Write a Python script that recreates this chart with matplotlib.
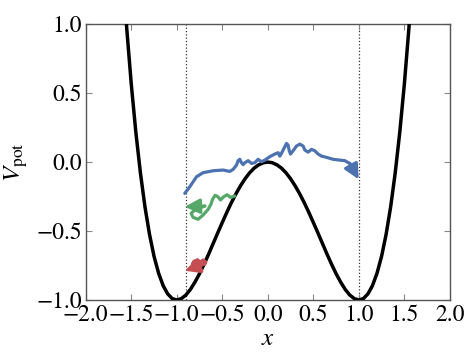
import matplotlib
matplotlib.use("Agg")
import matplotlib.pyplot as plt
import matplotlib.ticker as mticker

# double-well potential, right half (mirrored below)
x_half = [0.00, 0.05, 0.10, 0.15, 0.20, 0.25, 0.30, 0.35, 0.40, 0.45, 0.50,
          0.55, 0.60, 0.65, 0.70, 0.75, 0.80, 0.85, 0.90, 0.95, 1.00, 1.05,
          1.10, 1.15, 1.20, 1.25, 1.30, 1.35, 1.40, 1.45, 1.50, 1.55, 1.60]
v_half = [0.000, -0.005, -0.020, -0.044, -0.078, -0.121, -0.172, -0.230,
          -0.294, -0.364, -0.438, -0.513, -0.590, -0.667, -0.740, -0.809,
          -0.870, -0.923, -0.964, -0.990, -1.000, -0.990, -0.956, -0.896,
          -0.806, -0.684, -0.524, -0.324, -0.078, 0.216, 0.563, 0.967, 1.434]

# trajectories
blue_x = [-0.912, -0.857, -0.784, -0.711, -0.601, -0.491, -0.418, -0.381,
          -0.344, -0.326, -0.308, -0.289, -0.271, -0.253, -0.216, -0.179,
          -0.143, -0.106, -0.069, -0.033, 0.022, 0.077, 0.113, 0.132, 0.150,
          0.187, 0.205, 0.223, 0.234, 0.249, 0.278, 0.315, 0.352, 0.388,
          0.407, 0.443, 0.480, 0.516, 0.553, 0.590, 0.645, 0.718, 0.791,
          0.846, 0.901, 0.938, 0.974, 0.998]
blue_v = [-0.227, -0.179, -0.107, -0.077, -0.063, -0.058, -0.068, -0.053,
          -0.022, 0.010, 0.020, -0.005, -0.019, -0.005, 0.010, -0.010,
          -0.005, 0.020, 0.002, 0.014, 0.039, 0.058, 0.068, 0.043, 0.063,
          0.111, 0.135, 0.123, 0.087, 0.058, 0.082, 0.116, 0.130, 0.116,
          0.087, 0.072, 0.092, 0.082, 0.058, 0.043, 0.034, 0.020, 0.014,
          0.010, -0.010, -0.039, -0.082, -0.125]

green_x = [-0.363, -0.410, -0.447, -0.484, -0.520, -0.549, -0.579, -0.608,
           -0.623, -0.656, -0.711, -0.766, -0.821, -0.843, -0.802, -0.729,
           -0.692, -0.747, -0.821, -0.912]
green_v = [-0.246, -0.256, -0.237, -0.251, -0.275, -0.251, -0.241, -0.271,
           -0.304, -0.343, -0.384, -0.415, -0.401, -0.372, -0.348, -0.328,
           -0.319, -0.314, -0.319, -0.324]

red_x = [-0.681, -0.711, -0.740, -0.777, -0.813, -0.828, -0.791, -0.729,
         -0.692, -0.729, -0.802, -0.912]
red_v = [-0.725, -0.710, -0.725, -0.710, -0.720, -0.739, -0.749, -0.744,
         -0.739, -0.763, -0.773, -0.788]

x_ticks = [-2.0, -1.5, -1.0, -0.5, 0.0, 0.5, 1.0, 1.5, 2.0]
y_ticks = [-1.0, -0.5, 0.0, 0.5, 1.0]
guide_x = [-0.9, 1.0]

plt.rcParams['font.family'] = ['STIXGeneral', 'Liberation Serif', 'DejaVu Serif']
plt.rcParams['mathtext.fontset'] = 'stix'

fig, ax = plt.subplots(figsize=(4.74, 3.55), dpi=100)
fig.subplots_adjust(left=0.181, right=0.949, top=0.932, bottom=0.155)

xs = [-v for v in x_half[::-1]] + x_half[1:]
vs = v_half[::-1] + v_half[1:]
ax.plot(xs, vs, color='black', lw=2.5, zorder=3)

for g in guide_x:
    ax.axvline(g, color='#333333', lw=0.9, ls=':', zorder=1)

for tx, tv, c in [(blue_x, blue_v, '#4C72B0'),
                  (green_x, green_v, '#55A868'),
                  (red_x, red_v, '#C44E52')]:
    ax.plot(tx[:-3], tv[:-3], color=c, lw=2.3, zorder=4, solid_capstyle='round')
    ax.annotate('', xy=(tx[-1], tv[-1]), xytext=(tx[-4], tv[-4]),
                arrowprops=dict(arrowstyle='-|>', color=c, lw=2.3,
                                mutation_scale=22, shrinkA=0, shrinkB=0),
                zorder=5)

fmt = mticker.FuncFormatter(lambda v, p: ('%.1f' % v).replace('-', '\u2212'))
ax.set_xlim(-2.0, 2.0)
ax.set_ylim(-1.0, 1.0)
ax.set_xticks(x_ticks)
ax.set_yticks(y_ticks)
ax.xaxis.set_major_formatter(fmt)
ax.yaxis.set_major_formatter(fmt)
ax.tick_params(direction='in', length=4, width=0.8, color='#888888',
               labelsize=17, top=True, right=True, pad=3)
for s in ax.spines.values():
    s.set_color('#555555')
    s.set_linewidth(1.0)

ax.set_xlabel('$x$', fontsize=18, labelpad=1)
ax.set_ylabel(r'$V_{\rm pot}$', fontsize=18, labelpad=4)

fig.savefig('out.png', dpi=100)
